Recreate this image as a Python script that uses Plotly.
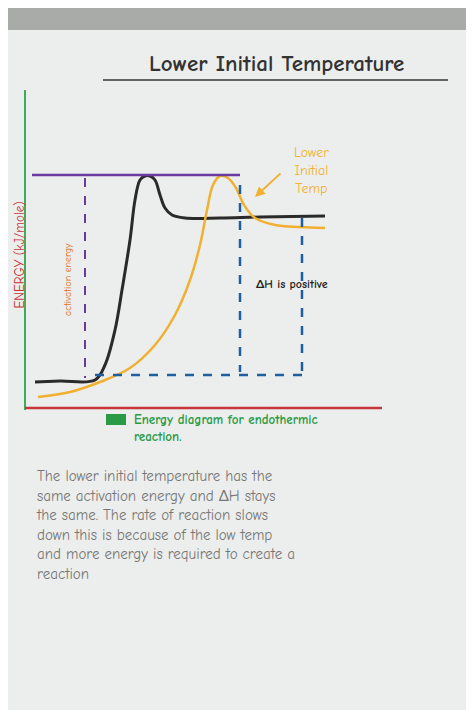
import plotly.graph_objects as go

# hand-drawn curves (x, energy-position in page pixels, y grows downward)
black_x = [35, 60, 95, 105, 115, 122, 130, 135, 140, 145, 150, 155, 160, 165, 172, 185, 220, 260, 325]
black_y = [382, 381, 380, 365, 330, 290, 240, 200, 180, 176, 176, 180, 195, 208, 215, 218, 218, 217, 216]
orange_x = [38, 70, 100, 130, 155, 175, 190, 200, 207, 213, 220, 228, 236, 244, 255, 275, 300, 325]
orange_y = [397, 392, 382, 368, 345, 315, 280, 245, 210, 185, 176, 178, 188, 205, 218, 225, 227, 228]

title = "Lower Initial Temperature"
ylabel = "ENERGY (kJ/mole)"
paragraph = ("The lower initial temperature has the<br>same activation energy and ΔH stays<br>"
             "the same. The rate of reaction slows<br>down this is because of the low temp<br>"
             "and more energy is required to create a<br>reaction")

fig = go.Figure()
fig.add_trace(go.Scatter(x=black_x, y=black_y, mode="lines", line=dict(color="#2a2a2a", width=3, shape="spline")))
fig.add_trace(go.Scatter(x=orange_x, y=orange_y, mode="lines", line=dict(color="#f0b030", width=2.5, shape="spline")))

shapes = [
    dict(type="rect", x0=0, x1=474, y0=0, y1=30, fillcolor="#a9aba8", line_width=0, layer="below"),
    dict(type="rect", x0=0, x1=474, y0=30, y1=710, fillcolor="#eceeed", line_width=0, layer="below"),
    dict(type="line", x0=25, x1=25, y0=90, y1=410, line=dict(color="#3cae5a", width=2)),
    dict(type="line", x0=25, x1=382, y0=408, y1=408, line=dict(color="#c8353a", width=2.5)),
    dict(type="line", x0=103, x1=448, y0=80, y1=80, line=dict(color="#333", width=1.5)),
    dict(type="line", x0=32, x1=240, y0=175, y1=175, line=dict(color="#6a3aa0", width=2.5)),
    dict(type="line", x0=85, x1=85, y0=178, y1=378, line=dict(color="#6a3aa0", width=2, dash="dash")),
    dict(type="line", x0=240, x1=240, y0=185, y1=372, line=dict(color="#1e5fa0", width=2.5, dash="dash")),
    dict(type="line", x0=302, x1=302, y0=218, y1=372, line=dict(color="#1e5fa0", width=2.5, dash="dash")),
    dict(type="line", x0=95, x1=302, y0=375, y1=375, line=dict(color="#1e5fa0", width=2.5, dash="dash")),
    dict(type="rect", x0=106, x1=126, y0=414, y1=425, fillcolor="#2a9a45", line_width=0),
]
hand = "Comic Neue, Lato, sans-serif"
ann = [
    dict(x=276, y=63, text="<b>" + title + "</b>", font=dict(size=23, color="#333", family=hand), showarrow=False),
    dict(x=9, y=255, xanchor="left", text=ylabel, textangle=-90, font=dict(size=13, color="#c8353a", family=hand), showarrow=False),
    dict(x=68, y=280, text="activation energy", textangle=-90, font=dict(size=10, color="#e07020", family=hand), showarrow=False),
    dict(x=292, y=284, text="<b>ΔH is positive</b>", font=dict(size=12, color="#222", family=hand), showarrow=False),
    dict(x=311, y=170, text="Lower<br>Initial<br>Temp", font=dict(size=14, color="#f0b030", family=hand), showarrow=False),
    dict(x=255, y=197, ax=282, ay=172, axref="x", ayref="y", text="", showarrow=True, arrowhead=2,
         arrowcolor="#f0b030", arrowwidth=2),
    dict(x=132, y=428, text="<b>Energy diagram for endothermic<br>reaction.</b>", xanchor="left", align="left",
         font=dict(size=13, color="#2a9a45", family=hand), showarrow=False),
    dict(x=34, y=525, text=paragraph, xanchor="left", align="left",
         font=dict(size=15, color="#777", family=hand), showarrow=False),
]
# page has an 8px body margin: shift the data window so data units equal page pixels
fig.update_layout(width=466, height=702, margin=dict(l=0, r=0, t=0, b=0), showlegend=False,
                  paper_bgcolor="#eceeed", plot_bgcolor="#eceeed", shapes=shapes, annotations=ann,
                  xaxis=dict(range=[8, 474], visible=False, fixedrange=True),
                  yaxis=dict(range=[710, 8], visible=False, fixedrange=True))
fig.write_html("out.html")
